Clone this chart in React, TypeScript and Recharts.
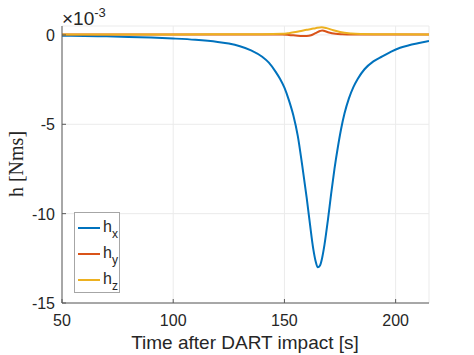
import React from 'react';
import { LineChart, Line, XAxis, YAxis, CartesianGrid } from 'recharts';

const hxTime = [50, 60, 70, 80, 90, 100, 110, 120, 125, 130, 135, 140, 143, 146, 148, 150, 152, 154, 156, 158, 160, 161.5, 163, 164, 165, 166, 167, 168, 169.5, 171, 172.5, 174, 175.5, 177, 179, 181, 183, 186, 190, 194, 198, 202, 206, 210, 215];
const hxValue = [-0.04, -0.06, -0.08, -0.11, -0.15, -0.2, -0.27, -0.39, -0.48, -0.63, -0.86, -1.22, -1.55, -2.05, -2.45, -2.95, -3.65, -4.5, -5.65, -7.3, -9.1, -10.6, -12.0, -12.65, -13.0, -12.9, -12.45, -11.75, -10.4, -8.9, -7.5, -6.3, -5.25, -4.4, -3.55, -2.92, -2.45, -1.92, -1.48, -1.2, -0.93, -0.72, -0.58, -0.47, -0.34];

const hyTime = [50, 100, 140, 149, 152, 155, 158, 160, 162, 164, 166, 167, 168, 170, 173, 176, 180, 190, 215];
const hyValue = [0.02, 0.02, 0.02, 0.02, 0.0, -0.03, -0.06, -0.06, -0.02, 0.1, 0.22, 0.25, 0.22, 0.14, 0.07, 0.04, 0.02, 0.02, 0.02];

const hzTime = [50, 100, 140, 149, 152, 155, 158, 160, 162, 164, 166.7, 169, 172, 175, 180, 185, 190, 215];
const hzValue = [0.03, 0.03, 0.04, 0.06, 0.1, 0.16, 0.24, 0.29, 0.33, 0.38, 0.43, 0.38, 0.26, 0.16, 0.08, 0.05, 0.04, 0.03];

const xTicks = [50, 100, 150, 200];
const yTicks = [-15, -10, -5, 0];
const seriesNames = ['x', 'y', 'z'];
const colors = ['#0072BD', '#D95319', '#EDB120'];

const toData = (t: number[], v: number[]) => t.map((x, i) => ({ t: x, v: v[i] }));
const hxData = toData(hxTime, hxValue);
const hyData = toData(hyTime, hyValue);
const hzData = toData(hzTime, hzValue);

const FONT = '"Liberation Sans", Arial, Helvetica, sans-serif';
const TXT = '#262626';

const XTick = (props: any) => {
  const { x, y, payload } = props;
  return (
    <g>
      <line x1={x} y1={y} x2={x} y2={y - 4} stroke="#5a5a5a" strokeWidth={1} />
      <text x={x} y={y + 23} textAnchor="middle" fontFamily={FONT} fontSize={16} fill={TXT}>
        {payload.value}
      </text>
    </g>
  );
};

const YTick = (props: any) => {
  const { x, y, payload } = props;
  return (
    <g>
      <line x1={x} y1={y} x2={x + 4} y2={y} stroke="#5a5a5a" strokeWidth={1} />
      <text x={x - 7} y={y + 6} textAnchor="end" fontFamily={FONT} fontSize={16} fill={TXT}>
        {payload.value}
      </text>
    </g>
  );
};

export default function App() {
  return (
    <div style={{ position: 'absolute', left: 0, top: 0, width: 474, height: 355, background: '#fff' }}>
      <LineChart width={474} height={355} margin={{ top: 26, right: 45, bottom: 0, left: 0 }}>
        <CartesianGrid stroke="#ebebeb" strokeWidth={1} />
        <XAxis
          dataKey="t"
          type="number"
          domain={[50, 215]}
          ticks={xTicks}
          allowDataOverflow
          height={52}
          tickSize={0}
          tickMargin={0}
          tick={<XTick />}
          axisLine={{ stroke: '#5a5a5a', strokeWidth: 1 }}
        />
        <YAxis
          type="number"
          domain={[-15, 0.5]}
          ticks={yTicks}
          allowDataOverflow
          width={62}
          tickSize={0}
          tickMargin={0}
          tick={<YTick />}
          axisLine={{ stroke: '#5a5a5a', strokeWidth: 1 }}
        />
        <Line data={hxData} dataKey="v" stroke={colors[0]} strokeWidth={2} dot={false} isAnimationActive={false} type="monotone" />
        <Line data={hyData} dataKey="v" stroke={colors[1]} strokeWidth={2} dot={false} isAnimationActive={false} type="monotone" />
        <Line data={hzData} dataKey="v" stroke={colors[2]} strokeWidth={2} dot={false} isAnimationActive={false} type="monotone" />
      </LineChart>

      <div style={{ position: 'absolute', left: 0, top: 0, width: 474, height: 355, pointerEvents: 'none' }}>
        <div style={{ position: 'absolute', left: 62, top: 3, fontFamily: FONT, fontSize: 19, color: TXT, whiteSpace: 'nowrap', lineHeight: '22px' }}>
          ×10<sup style={{ fontSize: 13, position: 'relative', top: -1 }}>-3</sup>
        </div>
        <div
          style={{
            position: 'absolute',
            left: 16,
            top: 164,
            transform: 'translate(-50%, -50%) rotate(-90deg)',
            fontFamily: '"Liberation Serif", "Times New Roman", serif',
            fontSize: 20,
            color: TXT,
            whiteSpace: 'nowrap',
          }}
        >
          h [Nms]
        </div>
        <div
          style={{
            position: 'absolute',
            left: 245,
            top: 343,
            transform: 'translate(-50%, -50%)',
            fontFamily: FONT,
            fontSize: 19,
            color: TXT,
            whiteSpace: 'nowrap',
          }}
        >
          Time after DART impact [s]
        </div>
        <div
          style={{
            position: 'absolute',
            left: 74,
            top: 212,
            width: 46,
            height: 81,
            border: '1px solid #a6a6a6',
            background: '#fff',
            boxSizing: 'border-box',
          }}
        >
          {seriesNames.map((n, i) => (
            <div key={n} style={{ position: 'absolute', left: 3, top: 6 + i * 26, height: 22, width: 42 }}>
              <div style={{ position: 'absolute', left: 0, top: 8, width: 22, height: 2, background: colors[i] }} />
              <div style={{ position: 'absolute', left: 25, top: -2, fontFamily: FONT, fontSize: 16, color: TXT, lineHeight: '20px', whiteSpace: 'nowrap' }}>
                h<sub style={{ fontSize: 12, position: 'relative', top: 2 }}>{n}</sub>
              </div>
            </div>
          ))}
        </div>
      </div>
    </div>
  );
}
